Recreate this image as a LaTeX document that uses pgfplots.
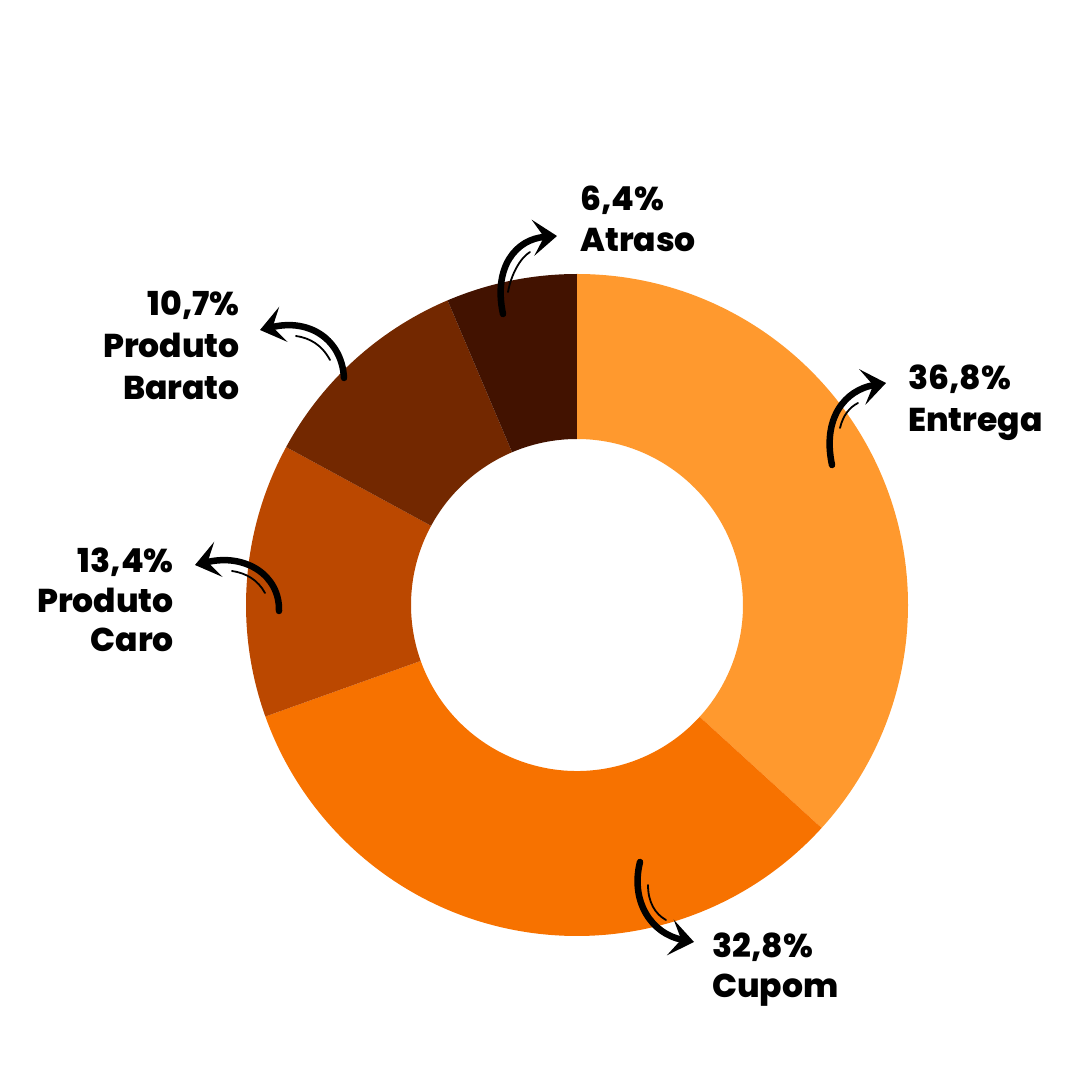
\documentclass[border=0pt]{standalone}
\usepackage{pgfplots}
\usepackage{pgfplotstable}
\usepackage{fontspec}
\setmainfont{Poppins}[BoldFont={Poppins ExtraBold}]
\usetikzlibrary{arrows.meta}
\pgfplotsset{compat=1.18}

\definecolor{cEntrega}{HTML}{FF992E}
\definecolor{cCupom}{HTML}{F77200}
\definecolor{cCaro}{HTML}{BB4800}
\definecolor{cBarato}{HTML}{732800}
\definecolor{cAtraso}{HTML}{421200}

% shares in percent, clockwise from 12 o'clock
\pgfplotstableread{
idx pct
0 36.8
1 32.8
2 13.4
3 10.7
4 6.4
}\slices

\begin{document}
\begin{tikzpicture}[
    lbl/.style={font=\bfseries\fontsize{33}{38}\selectfont, inner sep=0pt},
    arr/.style={line width=6.5pt, line cap=round, -{Stealth[length=24pt, width=36pt, inset=11pt]}},
    thin/.style={line width=1.8pt, line cap=round},
]
% start/end angle of every slice from the table (total is 100.1)
\def\cum{0}
\pgfplotsforeachungrouped \i in {0,...,4}{%
    \pgfplotstablegetelem{\i}{pct}\of\slices
    \pgfmathsetmacro\sa{90-\cum*3.6/1.001}
    \pgfmathsetmacro\cum{\cum+\pgfplotsretval}
    \pgfmathsetmacro\sb{90-\cum*3.6/1.001}
    \expandafter\xdef\csname sa\i\endcsname{\sa}
    \expandafter\xdef\csname sb\i\endcsname{\sb}
}
\begin{axis}[
    x=1pt, y=1pt,
    xmin=0, xmax=1080, ymin=0, ymax=1080,
    hide axis, clip=false,
]
    \path (axis cs:0,0) rectangle (axis cs:1080,1080);

    \pgfplotsinvokeforeach{0,...,4}{
        \fill[\ifcase#1 cEntrega\or cCupom\or cCaro\or cBarato\else cAtraso\fi]
            (axis cs:577,475) ++(\csname sa#1\endcsname:331pt)
            arc[start angle=\csname sa#1\endcsname, end angle=\csname sb#1\endcsname, radius=331pt]
            -- ++(\csname sb#1\endcsname:-165pt)
            arc[start angle=\csname sb#1\endcsname, end angle=\csname sa#1\endcsname, radius=166pt]
            -- cycle;
    }

    % Entrega
    \draw[arr] (axis cs:832,615) .. controls (axis cs:822,662) and (axis cs:845,690) .. (axis cs:886,697);
    \draw[thin] (axis cs:840,652) .. controls (axis cs:843,665) and (axis cs:850,673) .. (axis cs:858,677);
    \node[lbl, anchor=base west] at (axis cs:908,690) {36,8\%};
    \node[lbl, anchor=base west] at (axis cs:908,648) {Entrega};

    % Atraso
    \draw[arr] (axis cs:503,766) .. controls (axis cs:493,813) and (axis cs:516,841) .. (axis cs:557,844);
    \draw[thin] (axis cs:508,788) .. controls (axis cs:511,805) and (axis cs:520,822) .. (axis cs:530,828);
    \node[lbl, anchor=base west] at (axis cs:580,869) {6,4\%};
    \node[lbl, anchor=base west] at (axis cs:580,828) {Atraso};

    % Produto Barato
    \draw[arr] (axis cs:344,702) .. controls (axis cs:342,740) and (axis cs:310,762) .. (axis cs:260,750);
    \draw[thin] (axis cs:330,720) .. controls (axis cs:322,735) and (axis cs:310,742) .. (axis cs:296,744);
    \node[lbl, anchor=base east] at (axis cs:240,764) {10,7\%};
    \node[lbl, anchor=base east] at (axis cs:240,722) {Produto};
    \node[lbl, anchor=base east] at (axis cs:240,680) {Barato};

    % Produto Caro
    \draw[arr] (axis cs:279,469) .. controls (axis cs:280,505) and (axis cs:245,527) .. (axis cs:195,515);
    \draw[thin] (axis cs:265,487) .. controls (axis cs:258,500) and (axis cs:246,507) .. (axis cs:232,509);
    \node[lbl, anchor=base east] at (axis cs:174,507) {13,4\%};
    \node[lbl, anchor=base east] at (axis cs:174,467) {Produto};
    \node[lbl, anchor=base east] at (axis cs:174,428) {Caro};

    % Cupom
    \draw[arr] (axis cs:640,218) .. controls (axis cs:630,178) and (axis cs:652,146) .. (axis cs:694,138);
    \draw[thin] (axis cs:648,195) .. controls (axis cs:648,178) and (axis cs:655,166) .. (axis cs:666,160);
    \node[lbl, anchor=base west] at (axis cs:712,122) {32,8\%};
    \node[lbl, anchor=base west] at (axis cs:712,82) {Cupom};
\end{axis}
\end{tikzpicture}
\end{document}
